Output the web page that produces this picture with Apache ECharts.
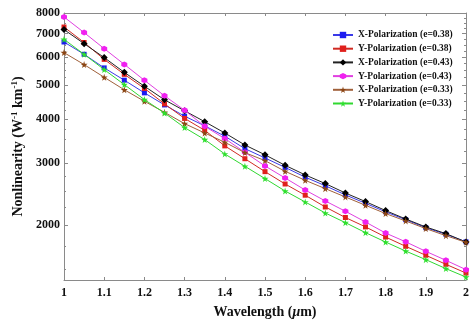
<!DOCTYPE html>
<html>
<head>
<meta charset="utf-8">
<script src="https://cdn.jsdelivr.net/npm/echarts@6/dist/echarts.min.js"></script>
<style>
  html, body { margin: 0; padding: 0; background: #ffffff; }
  #chart { width: 474px; height: 321px; }
</style>
</head>
<body>
<div id="chart"></div>
<script>
// Wavelength samples (µm)
const wavelength = [1.00, 1.05, 1.10, 1.15, 1.20, 1.25, 1.30, 1.35, 1.40, 1.45, 1.50,
                    1.55, 1.60, 1.65, 1.70, 1.75, 1.80, 1.85, 1.90, 1.95, 2.00];

// Nonlinear coefficient (W^-1 km^-1) for each polarization and ellipticity
const xPol038 = [6620, 6110, 5590, 5160, 4750, 4390, 4080, 3830, 3580, 3300, 3105,
                 2920, 2740, 2590, 2440, 2310, 2185, 2075, 1970, 1887, 1796];
const yPol038 = [7300, 6600, 5910, 5360, 4890, 4420, 4020, 3720, 3360, 3090, 2840,
                 2620, 2435, 2255, 2105, 1980, 1853, 1744, 1645, 1551, 1465];
const xPol043 = [7180, 6550, 5980, 5430, 4960, 4540, 4225, 3935, 3655, 3380, 3170,
                 2960, 2780, 2627, 2470, 2336, 2203, 2085, 1979, 1895, 1794];
const yPol043 = [7795, 7040, 6340, 5720, 5156, 4660, 4240, 3818, 3524, 3222, 2947,
                 2725, 2519, 2345, 2193, 2044, 1902, 1796, 1688, 1592, 1498];
const xPol033 = [6177, 5713, 5258, 4846, 4496, 4183, 3886, 3655, 3440, 3216, 3052,
                 2847, 2684, 2542, 2407, 2280, 2160, 2058, 1958, 1870, 1790];
const yPol033 = [6737, 6109, 5529, 5013, 4546, 4164, 3786, 3501, 3187, 2941, 2714,
                 2503, 2330, 2168, 2036, 1907, 1794, 1691, 1599, 1508, 1427];

const seriesNames = [
  'X-Polarization (e=0.38)', 'Y-Polarization (e=0.38)',
  'X-Polarization (e=0.43)', 'Y-Polarization (e=0.43)',
  'X-Polarization (e=0.33)', 'Y-Polarization (e=0.33)'
];

// Log-axis tick positions
const yMajorTicks = [2000, 3000, 4000, 5000, 6000, 7000, 8000];
const yMinorTicks = [1500, 1750, 2250, 2500, 2750, 3250, 3500, 3750, 4250, 4500, 4750,
                     5250, 5500, 5750, 6250, 6500, 6750, 7250, 7500, 7750];

const STAR = 'path://M50,0 L61,35 L98,35 L68,57 L79,91 L50,70 L21,91 L32,57 L2,35 L39,35 Z';
const HEX = 'path://M50,0 L93,25 L93,75 L50,100 L7,75 L7,25 Z';

const styles = [
  { color: '#1c1cf0', symbol: 'rect', size: 5, line: '#3a3ae8' },
  { color: '#e0201c', symbol: 'rect', size: 5, line: '#d02a22' },
  { color: '#000000', symbol: 'diamond', size: 7, line: '#222222' },
  { color: '#f020f0', symbol: HEX, size: 6, line: '#e040e0' },
  { color: '#8b4513', symbol: STAR, size: 7, line: '#a0603a' },
  { color: '#2ee02e', symbol: STAR, size: 7, line: '#30d830' }
];

const values = [xPol038, yPol038, xPol043, yPol043, xPol033, yPol033];

const FONT = '"Liberation Serif", "Times New Roman", serif';
const AXIS_COLOR = '#8a8a8a';

const series = values.map((vals, i) => ({
  name: seriesNames[i],
  type: 'line',
  data: wavelength.map((w, j) => [w, vals[j]]),
  symbol: styles[i].symbol,
  symbolSize: styles[i].size,
  showAllSymbol: true,
  itemStyle: { color: styles[i].color },
  lineStyle: { color: styles[i].line, width: 1 },
  emphasis: { disabled: true },
  animation: false,
  z: 3 + i
}));

const yBase = {
  type: 'log',
  min: 1400,
  max: 8000,
  gridIndex: 0,
  splitLine: { show: false },
  axisLine: { show: true, lineStyle: { color: AXIS_COLOR, width: 1 } }
};

const chart = echarts.init(document.getElementById('chart'), null, { renderer: 'canvas' });
chart.setOption({
  backgroundColor: '#ffffff',
  animation: false,
  grid: { left: 64, right: 8, top: 13, bottom: 41, containLabel: false, outerBoundsMode: 'none' },
  legend: {
    orient: 'vertical',
    left: 327,
    top: 24,
    itemWidth: 20,
    itemHeight: 8,
    itemGap: 1.7,
    selectedMode: false,
    textStyle: { fontFamily: FONT, fontWeight: 'bold', fontSize: 9.5, color: '#111', lineHeight: 12 },
    data: seriesNames
  },
  xAxis: [
    {
      type: 'value', min: 1, max: 2, interval: 0.1, position: 'bottom',
      name: '{n|Wavelength (}{mu|μ}{n|m)}',
      nameLocation: 'middle', nameGap: 25,
      nameTextStyle: {
        rich: {
          n: { fontFamily: FONT, fontWeight: 'bold', fontSize: 14, color: '#111' },
          mu: { fontFamily: FONT, fontWeight: 'bold', fontStyle: 'italic', fontSize: 14, color: '#111' }
        }
      },
      splitLine: { show: false },
      axisLine: { show: true, onZero: false, lineStyle: { color: AXIS_COLOR, width: 1 } },
      axisTick: { show: true, inside: true, length: 3, lineStyle: { color: AXIS_COLOR } },
      axisLabel: {
        show: true, margin: 7, showMinLabel: true, showMaxLabel: true,
        fontFamily: FONT, fontWeight: 'bold', fontSize: 12, color: '#111'
      }
    },
    {
      type: 'value', min: 1, max: 2, interval: 0.1, position: 'top',
      splitLine: { show: false },
      axisLine: { show: true, onZero: false, lineStyle: { color: AXIS_COLOR, width: 1 } },
      axisTick: { show: true, inside: true, length: 3, lineStyle: { color: AXIS_COLOR } },
      axisLabel: { show: false }
    }
  ],
  yAxis: [
    Object.assign({}, yBase, {
      position: 'left',
      name: '{n|Nonlinearity (W}{s|-1}{n| km}{s|-1}{n|)}',
      nameLocation: 'middle', nameGap: 36, nameRotate: 90,
      nameTextStyle: {
        rich: {
          n: { fontFamily: FONT, fontWeight: 'bold', fontSize: 14, color: '#111', lineHeight: 16 },
          s: { fontFamily: FONT, fontWeight: 'bold', fontSize: 9, color: '#111', verticalAlign: 'top', lineHeight: 16, padding: [0, 0, 4, 0] }
        }
      },
      axisTick: { show: true, inside: true, length: 4, customValues: yMajorTicks, lineStyle: { color: AXIS_COLOR } },
      axisLabel: {
        show: true, margin: 4, customValues: yMajorTicks,
        formatter: (v) => String(Math.round(v)),
        fontFamily: FONT, fontWeight: 'bold', fontSize: 12, color: '#111'
      }
    }),
    Object.assign({}, yBase, {
      position: 'left',
      axisLine: { show: false },
      axisTick: { show: true, inside: true, length: 2, customValues: yMinorTicks, lineStyle: { color: AXIS_COLOR } },
      axisLabel: { show: false, customValues: yMinorTicks }
    }),
    Object.assign({}, yBase, {
      position: 'right',
      axisTick: { show: true, inside: true, length: 4, customValues: yMajorTicks, lineStyle: { color: AXIS_COLOR } },
      axisLabel: { show: false, customValues: yMajorTicks }
    }),
    Object.assign({}, yBase, {
      position: 'right',
      axisLine: { show: false },
      axisTick: { show: true, inside: true, length: 2, customValues: yMinorTicks, lineStyle: { color: AXIS_COLOR } },
      axisLabel: { show: false, customValues: yMinorTicks }
    })
  ],
  series: series
});
</script>
</body>
</html>
